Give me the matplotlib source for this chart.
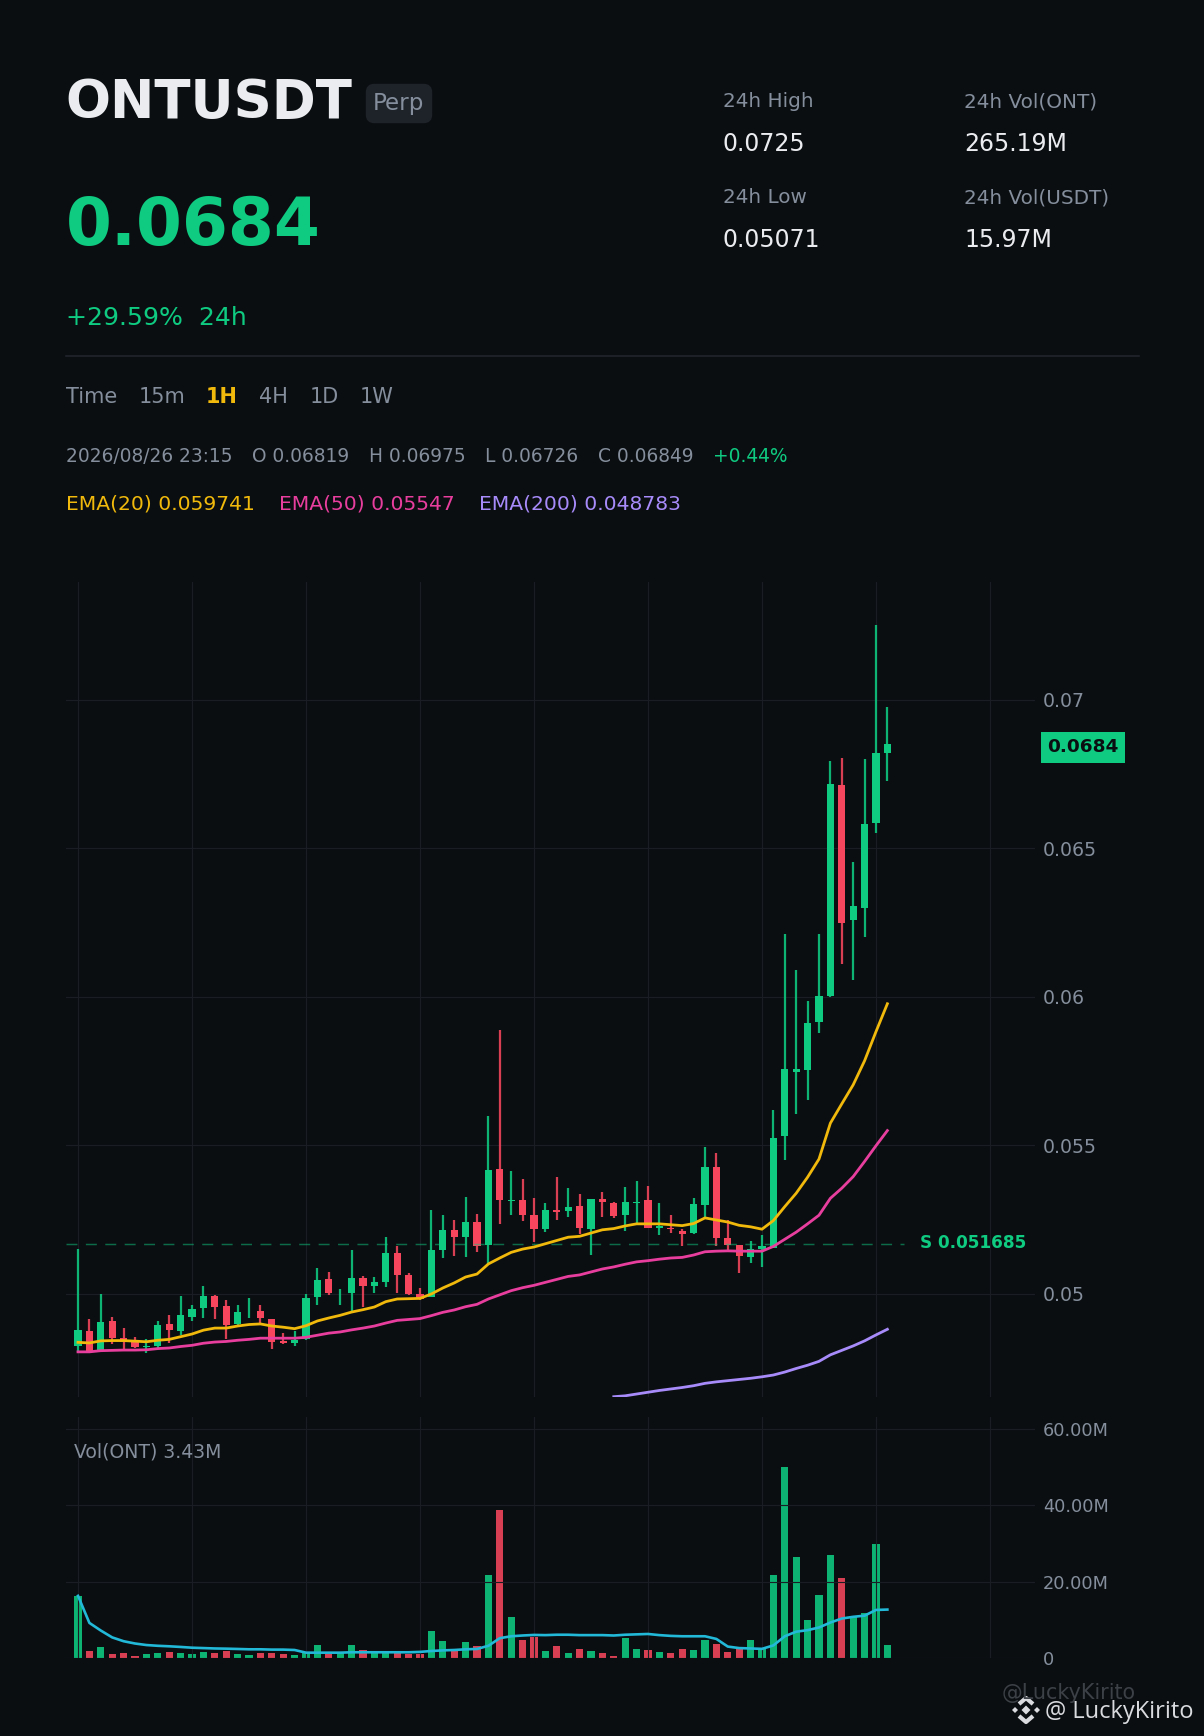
import matplotlib
matplotlib.use("Agg")
from matplotlib import pyplot as plt
from matplotlib.patches import FancyBboxPatch, Polygon, Rectangle
import numpy as np

W, H = 1204, 1736
BG = '#0b0e11'
GREEN = '#0ecb81'
RED = '#f6465d'
GRAY = '#848e9c'
WHITE = '#eaecef'
GRID = '#1a1e24'
YELLOW = '#f0b90b'
PINK = '#e83e9e'
PURPLE = '#a78bfa'
CYAN = '#22b8d8'

opens = [.04825, .04875, .04811, .04909, .04852, .04845, .04822, .04825, .04899, .04875,
         .04923, .04953, .04993, .04960, .04899, .04953, .04943, .04916, .04842, .04835,
         .04849, .04990, .05051, .04990, .05003, .05054, .05027, .05040, .05138, .05064,
         .05000, .04991, .05148, .05216, .05192, .05242, .05165, .05421, .05313, .05317,
         .05266, .05219, .05283, .05280, .05296, .05219, .05320, .05306, .05266, .05306,
         .05317, .05222, .05222, .05212, .05205, .05300, .05428, .05189, .05165, .05125,
         .05152, .05154, .05532, .05747, .05754, .05916, .06003, .06714, .06259, .06300,
         .06586, .06822]
highs = [.05152, .04916, .05000, .04923, .04886, .04855, .04849, .04909, .04929, .04993,
         .04963, .05027, .04997, .04980, .04963, .04987, .04963, .04916, .04869, .04875,
         .05000, .05088, .05074, .05017, .05148, .05061, .05057, .05192, .05162, .05071,
         .05020, .05283, .05266, .05249, .05327, .05269, .05599, .05889, .05414, .05387,
         .05323, .05306, .05394, .05357, .05337, .05320, .05344, .05310, .05360, .05381,
         .05364, .05306, .05266, .05219, .05323, .05495, .05475, .05249, .05165, .05178,
         .05199, .05620, .06212, .06091, .05987, .06212, .06795, .06805, .06455, .06801,
         .07253, .06976]
lows = [.04806, .04806, .04811, .04832, .04811, .04818, .04801, .04818, .04835, .04862,
        .04909, .04919, .04916, .04849, .04892, .04919, .04896, .04815, .04832, .04825,
        .04845, .04963, .04997, .04963, .04935, .04956, .05003, .05024, .05003, .04995,
        .04980, .04991, .05121, .05128, .05125, .05141, .05101, .05236, .05266, .05246,
        .05175, .05209, .05249, .05259, .05202, .05131, .05259, .05256, .05212, .05236,
        .05222, .05199, .05205, .05162, .05202, .05256, .05162, .05148, .05071, .05104,
        .05091, .05154, .05451, .05606, .05653, .05879, .06001, .06111, .06057, .06202,
        .06552, .06727]
closes = [.04879, .04806, .04906, .04852, .04838, .04822, .04825, .04896, .04879, .04929,
          .04950, .04993, .04956, .04896, .04939, .04953, .04919, .04838, .04835, .04845,
          .04987, .05047, .05003, .04990, .05054, .05027, .05040, .05138, .05064, .05000,
          .04984, .05148, .05216, .05192, .05242, .05162, .05418, .05317, .05317, .05266,
          .05219, .05283, .05276, .05293, .05222, .05320, .05310, .05263, .05310, .05310,
          .05222, .05229, .05219, .05202, .05303, .05428, .05189, .05165, .05128, .05152,
          .05162, .05525, .05758, .05758, .05912, .06003, .06717, .06249, .06306, .06583,
          .06822, .06852]

ema20 = [.04837, .04835, .04842, .04843, .04843, .04841, .04839, .04844, .04847, .04856,
         .04865, .04878, .04885, .04885, .04892, .04897, .04899, .04892, .04888, .04883,
         .04893, .04909, .04919, .04928, .04939, .04947, .04956, .04974, .04983, .04984,
         .04985, .05000, .05020, .05037, .05057, .05067, .05101, .05121, .05140, .05151,
         .05158, .05169, .05180, .05191, .05194, .05205, .05216, .05220, .05229, .05236,
         .05236, .05236, .05233, .05230, .05237, .05256, .05249, .05242, .05231, .05226,
         .05218, .05247, .05294, .05339, .05393, .05454, .05575, .05640, .05704, .05785,
         .05883, .05977]
ema50 = [.04805, .04805, .04809, .04810, .04811, .04811, .04812, .04816, .04818, .04823,
         .04827, .04834, .04838, .04840, .04844, .04847, .04851, .04851, .04851, .04851,
         .04854, .04861, .04868, .04872, .04879, .04885, .04892, .04902, .04911, .04914,
         .04917, .04927, .04938, .04946, .04957, .04965, .04983, .04997, .05011, .05021,
         .05029, .05039, .05049, .05059, .05064, .05074, .05084, .05091, .05100, .05108,
         .05112, .05117, .05121, .05123, .05131, .05142, .05144, .05145, .05144, .05144,
         .05144, .05160, .05184, .05208, .05236, .05265, .05322, .05356, .05395, .05446,
         .05499, .05550]
# only the last part of this one is inside the panel
ema200_first = 47
ema200 = [.04654, .04657, .04663, .04669, .04675, .04680, .04685, .04691, .04699, .04704,
          .04708, .04712, .04716, .04721, .04727, .04737, .04749, .04760, .04773, .04795,
          .04810, .04825, .04842, .04862, .04881]

volumes = [16.3, 1.84, 2.9, 1.05, 1.3, 0.5, 1.05, 1.3, 1.6, 1.3,
           1.05, 1.6, 1.3, 1.84, 1.05, 0.8, 1.3, 1.3, 1.05, 0.8,
           1.3, 3.4, 1.05, 1.3, 3.4, 2.1, 1.3, 1.3, 1.3, 1.05,
           1.05, 7.1, 4.5, 2.1, 4.2, 3.2, 21.8, 38.7, 10.8, 4.7,
           5.5, 1.83, 3.1, 1.3, 2.35, 1.83, 1.3, 0.5, 5.2, 2.35,
           2.1, 1.57, 1.3, 2.35, 2.1, 4.7, 3.65, 1.57, 2.35, 4.7,
           2.6, 21.7, 50.1, 26.4, 9.9, 16.4, 27.1, 20.9, 10.8, 11.7,
           30.0, 3.4]
vol_ma = [16.3, 9.2, 7.2, 5.4, 4.4, 3.8, 3.4, 3.2, 3.07, 2.9,
          2.7, 2.6, 2.5, 2.45, 2.37, 2.28, 2.28, 2.2, 2.2, 2.1,
          1.4, 1.4, 1.4, 1.4, 1.5, 1.5, 1.5, 1.5, 1.5, 1.5,
          1.6, 1.84, 2.0, 2.1, 2.28, 2.37, 3.2, 5.2, 5.7, 5.9,
          6.05, 6.0, 6.1, 6.1, 6.0, 6.0, 6.0, 5.9, 6.1, 6.2,
          6.3, 6.0, 5.8, 5.7, 5.7, 5.7, 5.0, 3.0, 2.6, 2.5,
          2.4, 3.3, 5.7, 6.9, 7.3, 8.0, 9.3, 10.35, 10.8, 11.1,
          12.6, 12.7]

price_ticks = [0.05, 0.055, 0.06, 0.065, 0.07]
price_labels = ['0.05', '0.055', '0.06', '0.065', '0.07']
vol_ticks = [0, 20, 40, 60]
vol_labels = ['0', '20.00M', '40.00M', '60.00M']
grid_x = [0, 10, 20, 30, 40, 50, 60, 70, 80]
support = 0.051685
last_price = 0.0684


def px_axes(left, top, right, bottom):
    return fig.add_axes([left / W, 1 - bottom / H, (right - left) / W, (bottom - top) / H])


def label(x, y, s, color=GRAY, size=14.4, weight='normal', **kw):
    over.text(x, y, s, color=color, fontsize=size, fontweight=weight, va='baseline', **kw)


plt.rcParams['font.family'] = 'DejaVu Sans'
fig = plt.figure(figsize=(W / 100, H / 100), dpi=100, facecolor=BG)

# price panel
ax = px_axes(66, 582, 1035, 1397)
ax.set_facecolor(BG)
x = np.arange(len(opens))
o = np.array(opens)
c = np.array(closes)
colors = [GREEN if cl >= op else RED for op, cl in zip(opens, closes)]
ax.vlines(x, lows, highs, colors=colors, linewidth=1.6, alpha=0.88, zorder=3)
ax.bar(x, np.abs(c - o), bottom=np.minimum(o, c), width=0.62, color=colors, linewidth=0, zorder=4)
ax.plot(x, ema20, color=YELLOW, lw=2.0, zorder=5)
ax.plot(x, ema50, color=PINK, lw=2.0, zorder=5)
ax.plot(np.arange(ema200_first, len(opens)), ema200, color=PURPLE, lw=2.0, zorder=5)
ax.hlines(support, -1.05, 72.5, color=GREEN, alpha=0.5, lw=1.05,
          linestyle=(0, (7.5, 5.8)), zorder=4.5)
ax.set_xlim(-1.053, 83.95)
ax.set_ylim(0.04653, 0.07397)
ax.set_yticks(price_ticks)
ax.set_yticklabels(price_labels)
ax.set_xticks(grid_x)

# volume panel
vax = px_axes(66, 1417, 1035, 1658)
vax.set_facecolor(BG)
vax.bar(x, volumes, width=0.62, color=colors, alpha=0.88, linewidth=0, zorder=1)
vax.plot(x, vol_ma, color=CYAN, lw=1.9, zorder=4)
vax.set_xlim(-1.053, 83.95)
vax.set_ylim(0, 63.2)
vax.set_yticks(vol_ticks)
vax.set_yticklabels(vol_labels)
vax.set_xticks(grid_x)

for a, gz, lsize in ((ax, 1, 13.6), (vax, 2, 12.8)):
    a.grid(True, color=GRID, lw=0.8, zorder=gz)
    a.set_axisbelow(a is ax)
    a.tick_params(axis='y', length=0, right=False, left=False, labelleft=False, labelright=True,
                  labelcolor=GRAY, labelsize=lsize, pad=5.8)
    a.tick_params(axis='x', length=0, bottom=False, labelbottom=False)
    for sp in a.spines.values():
        sp.set_visible(False)

# overlay in pixel coordinates, for the header and the tags
over = fig.add_axes([0, 0, 1, 1], zorder=10)
over.set_xlim(0, W)
over.set_ylim(H, 0)
over.axis('off')

label(65, 118, 'ONTUSDT', WHITE, 38.2, 'bold')
over.add_patch(FancyBboxPatch((370, 88), 58, 31, boxstyle='round,pad=0,rounding_size=4',
                              mutation_aspect=1, fc='#1e2329', ec='#1e2329', lw=6))
label(373, 110, 'Perp', GRAY, 16.6)
label(66, 245, '0.0684', GREEN, 47.6, 'bold')
label(66, 325, '+29.59%  24h', GREEN, 18.1)

label(723, 107, '24h High')
label(723, 151, '0.0725', WHITE, 17)
label(723, 203, '24h Low')
label(723, 247, '0.05071', WHITE, 17)
label(964, 107, '24h Vol(ONT)')
label(964, 151, '265.19M', WHITE, 17)
label(964, 203, '24h Vol(USDT)')
label(964, 247, '15.97M', WHITE, 17)

over.plot([66, 1139], [356, 356], color='#23272f', lw=1.1)

label(66, 403, 'Time', GRAY, 15)
label(139, 403, '15m', GRAY, 15)
label(206, 403, '1H', YELLOW, 15, 'bold')
label(259, 403, '4H', GRAY, 15)
label(310, 403, '1D', GRAY, 15)
label(360, 403, '1W', GRAY, 15)

label(66, 462, '2026/08/26 23:15', GRAY, 13.4)
label(252, 462, 'O 0.06819', GRAY, 13.4)
label(369, 462, 'H 0.06975', GRAY, 13.4)
label(485, 462, 'L 0.06726', GRAY, 13.4)
label(598, 462, 'C 0.06849', GRAY, 13.4)
label(713, 462, '+0.44%', GREEN, 13.4)

label(66, 510, 'EMA(20) 0.059741', YELLOW, 14.6)
label(279, 510, 'EMA(50) 0.05547', PINK, 14.6)
label(479, 510, 'EMA(200) 0.048783', PURPLE, 14.6)

label(74, 1457, 'Vol(ONT) 3.43M', GRAY, 13.6)

over.add_patch(Rectangle((1041, 732), 84, 31, fc=GREEN, ec='none'))
over.text(1083, 747.5, '0.0684', color=BG, fontsize=13.3, fontweight='bold', ha='center', va='center')
over.text(920, 1243, 'S 0.051685', color=GREEN, fontsize=12.2, fontweight='bold', va='center')

# watermark
label(1002, 1699, '@LuckyKirito', '#3c4147', 14.9)
label(1045, 1718, '@ LuckyKirito', '#d9dbde', 17, family='Open Sans')
for (cx, cy, r) in ((1026, 1710, 4.5), (1015, 1710, 3), (1037, 1710, 3)):
    over.add_patch(Polygon([(cx - r, cy), (cx, cy - r), (cx + r, cy), (cx, cy + r)], fc='#d9dbde', ec='none'))
over.plot([1019, 1026, 1033], [1704, 1698, 1704], color='#d9dbde', lw=3, solid_capstyle='butt')
over.plot([1019, 1026, 1033], [1716, 1722, 1716], color='#d9dbde', lw=3, solid_capstyle='butt')

fig.savefig('out.png', dpi=100, facecolor=BG)
